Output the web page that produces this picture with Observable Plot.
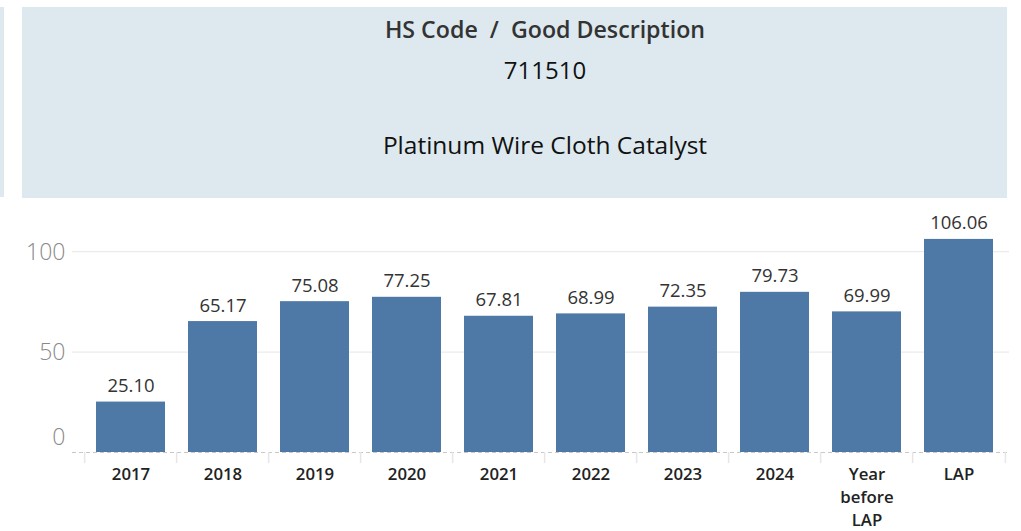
<!DOCTYPE html>
<html>
<head>
<meta charset="utf-8">
<script src="https://cdn.jsdelivr.net/npm/d3@7"></script>
<script src="https://cdn.jsdelivr.net/npm/@observablehq/plot@0.6"></script>
<style>
  html, body { margin: 0; padding: 0; background: #fff; }
  body { width: 1021px; height: 531px; position: relative; overflow: hidden; font-family: "Open Sans", "Noto Sans", sans-serif; }
  #strip { position: absolute; left: 0; top: 7px; width: 4px; height: 190px; background: #dde9ef; }
  #header { position: absolute; left: 22px; top: 7px; width: 985px; height: 191px; background: #dde9ef; }
  #htext { position: absolute; left: 61px; right: 0; top: 0; text-align: center; color: #111; }
  #htext div { position: absolute; left: 0; right: 0; line-height: 32px; white-space: pre; }
  #h1 { top: 6px; font-size: 23.2px; font-weight: 600; color: #333; }
  #h2 { top: 47px; font-size: 24px; }
  #h3 { top: 122px; font-size: 24.5px; }
  #chart { position: absolute; left: 0; top: 198px; }
</style>
</head>
<body>
<div id="strip"></div>
<div id="header">
  <div id="htext">
    <div id="h1"></div>
    <div id="h2"></div>
    <div id="h3"></div>
  </div>
</div>
<div id="chart"></div>
<script>
const headerTitle = "HS Code  /  Good Description";
const hsCode = "711510";
const goodDescription = "Platinum Wire Cloth Catalyst";

const categories = ["2017", "2018", "2019", "2020", "2021", "2022", "2023", "2024", "Year before LAP", "LAP"];
const values = [25.10, 65.17, 75.08, 77.25, 67.81, 68.99, 72.35, 79.73, 69.99, 106.06];
const categoryLabels = ["2017", "2018", "2019", "2020", "2021", "2022", "2023", "2024", "Year\nbefore\nLAP", "LAP"];
const yTicks = [0, 50, 100];

document.getElementById("h1").textContent = headerTitle;
document.getElementById("h2").textContent = hsCode;
document.getElementById("h3").textContent = goodDescription;

const data = categories.map((c, i) => ({category: c, value: values[i], label: categoryLabels[i]}));
const last = categories[categories.length - 1];

const chart = Plot.plot({
  width: 1021,
  height: 333,
  marginLeft: 80,
  marginRight: 13,
  marginTop: 33,
  marginBottom: 79,
  style: {fontFamily: "'Open Sans', 'Noto Sans', sans-serif", background: "transparent"},
  x: {domain: categories, paddingInner: 0.25, paddingOuter: 0.125, axis: null},
  y: {domain: [0, 110], axis: null},
  marks: [
    Plot.ruleY(yTicks.filter(d => d > 0), {stroke: "#ebebeb", strokeWidth: 1.2, insetLeft: -8, insetRight: -1}),
    Plot.barY(data, {x: "category", y: "value", fill: "#4e79a7"}),
    Plot.ruleY([0], {stroke: "#c8c8c8", strokeDasharray: "4,3", insetLeft: -8, insetRight: -1}),
    Plot.ruleX(categories, {x: d => d, y1: 0, y2: -5.5, dx: -46.4, stroke: "#e6e6e6", strokeWidth: 1.5}),
    Plot.ruleX([last], {x: d => d, y1: 0, y2: -5.5, dx: 46.4, stroke: "#e6e6e6", strokeWidth: 1.5}),
    Plot.text(data, {x: "category", y: "value", text: d => d.value.toFixed(2), lineAnchor: "bottom", dy: -10, fontSize: 18.5, fill: "#333"}),
    Plot.text(data, {x: "category", y: 0, text: "label", lineAnchor: "top", dy: 11, lineHeight: 1.38, fontSize: 16.8, fontWeight: 600, fill: "#222"}),
    Plot.text(yTicks.filter(d => d > 0), {y: d => d, frameAnchor: "left", text: d => String(d), textAnchor: "end", dx: -15, dy: 1, fontSize: 23, fontWeight: 300, fill: "#8a8a8a"}),
    Plot.text([0], {y: d => d, frameAnchor: "left", text: d => String(d), textAnchor: "end", dx: -15, dy: -15, fontSize: 23, fontWeight: 300, fill: "#8a8a8a"})
  ]
});
document.getElementById("chart").appendChild(chart);
</script>
</body>
</html>
